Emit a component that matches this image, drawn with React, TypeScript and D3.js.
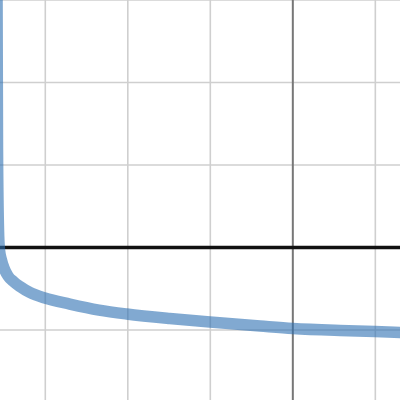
import * as d3 from "d3";
import React from "react";

// curve (graph units)
const curveX = [-3.585, -3.579, -3.567, -3.555, -3.531, -3.501, -3.452, -3.38, -3.307, -3.188, -3.006, -2.703, -2.349, -2.013, -1.492, -1.004, -0.398, 0, 0.572, 0.996, 1.299];
const curveY = [3.121, 1.182, 0.212, -0.03, -0.152, -0.248, -0.345, -0.418, -0.473, -0.545, -0.612, -0.685, -0.758, -0.806, -0.861, -0.903, -0.952, -0.982, -1.006, -1.018, -1.03];

const gridX = [-3, -2, -1, 1];
const gridY = [-1, 1, 2, 3];
const hLine = 0; // black horizontal line y = 0

const W = 400, H = 400;

export default function App() {
  const x = d3.scaleLinear().domain([-3.549, 1.299]).range([0, W]);
  const y = d3.scaleLinear().domain([-1.848, 3.0]).range([H, 0]);

  const pts: [number, number][] = curveX.map((v, i) => [v, curveY[i]]);
  const line = d3.line<[number, number]>()
    .x(d => x(d[0]))
    .y(d => y(d[1]))
    .curve(d3.curveMonotoneX);

  return (
    <div style={{ position: "fixed", left: 0, top: 0 }}>
      <svg width={W} height={H} style={{ display: "block", background: "#fff" }}>
        <g stroke="#cfcfcf" strokeWidth={1.6}>
          {gridX.map(v => <line key={"gx" + v} x1={x(v)} x2={x(v)} y1={0} y2={H} />)}
          {gridY.map(v => <line key={"gy" + v} x1={0} x2={W} y1={y(v)} y2={y(v)} />)}
        </g>
        {/* y axis */}
        <line x1={x(0)} x2={x(0)} y1={0} y2={H} stroke="#777" strokeWidth={2} />
        <line x1={0} x2={W} y1={y(hLine)} y2={y(hLine)} stroke="#111" strokeWidth={3.5} />
        <path d={line(pts) ?? ""} fill="none" stroke="#2d70b3" strokeOpacity={0.6} strokeWidth={11.5} strokeLinecap="round" strokeLinejoin="round" />
      </svg>
    </div>
  );
}
